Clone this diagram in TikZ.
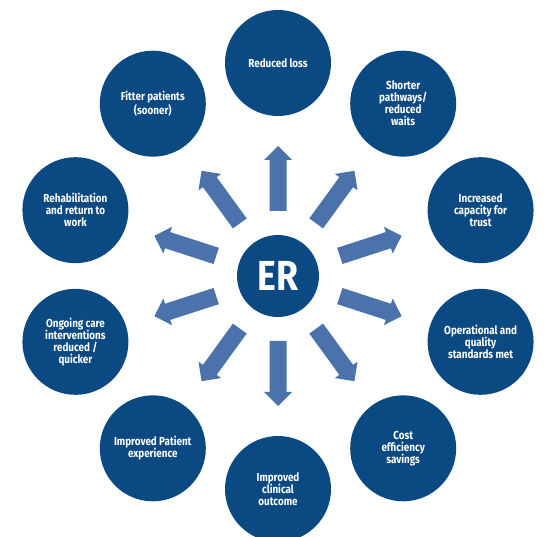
\documentclass[tikz,border=0pt]{standalone}
\usepackage{fontspec}
\newfontfamily\lbl{Fira Sans}[FakeStretch=0.85]
\definecolor{circ}{HTML}{0B4983}
\definecolor{arr}{HTML}{4B72AA}
\begin{document}
\begin{tikzpicture}[x=1pt,y=1pt,
  outer/.style={circle, fill=circ, minimum size=106pt, inner sep=0pt, text=white,
    font=\lbl\bfseries\fontsize{11.6}{12}\selectfont, align=center},
  hub/.style={circle, fill=circ, minimum size=82pt, inner sep=0pt, text=white,
    font=\lbl\bfseries\fontsize{42}{42}\selectfont},
  blockarrow/.style={fill=arr}]
\useasboundingbox (0,0) rectangle (557,536);
\node[hub] (er) at (278,260) {ER};
\foreach \k/\txt in {
  0/{Reduced loss},
  1/{Shorter\\pathways/\\reduced\\waits},
  2/{Increased\\capacity for\\trust},
  3/{Operational and\\quality\\standards met},
  4/{Cost\\efficiency\\savings},
  5/{Improved\\clinical\\outcome},
  6/{Improved Patient\\experience},
  7/{Ongoing care\\interventions\\reduced /\\quicker},
  8/{Rehabilitation\\and return to\\work},
  9/{Fitter patients\\(sooner)}} {
  \path (er.center) ++({90-36*\k}:213) node[outer] (c\k) {\txt};
  \begin{scope}[shift={(er.center)}, rotate={90-36*\k}]
    \fill[blockarrow] (65,-8.5) -- (116,-8.5) -- (116,-14) -- (130,0)
      -- (116,14) -- (116,8.5) -- (65,8.5) -- cycle;
  \end{scope}
}
\end{tikzpicture}
\end{document}
